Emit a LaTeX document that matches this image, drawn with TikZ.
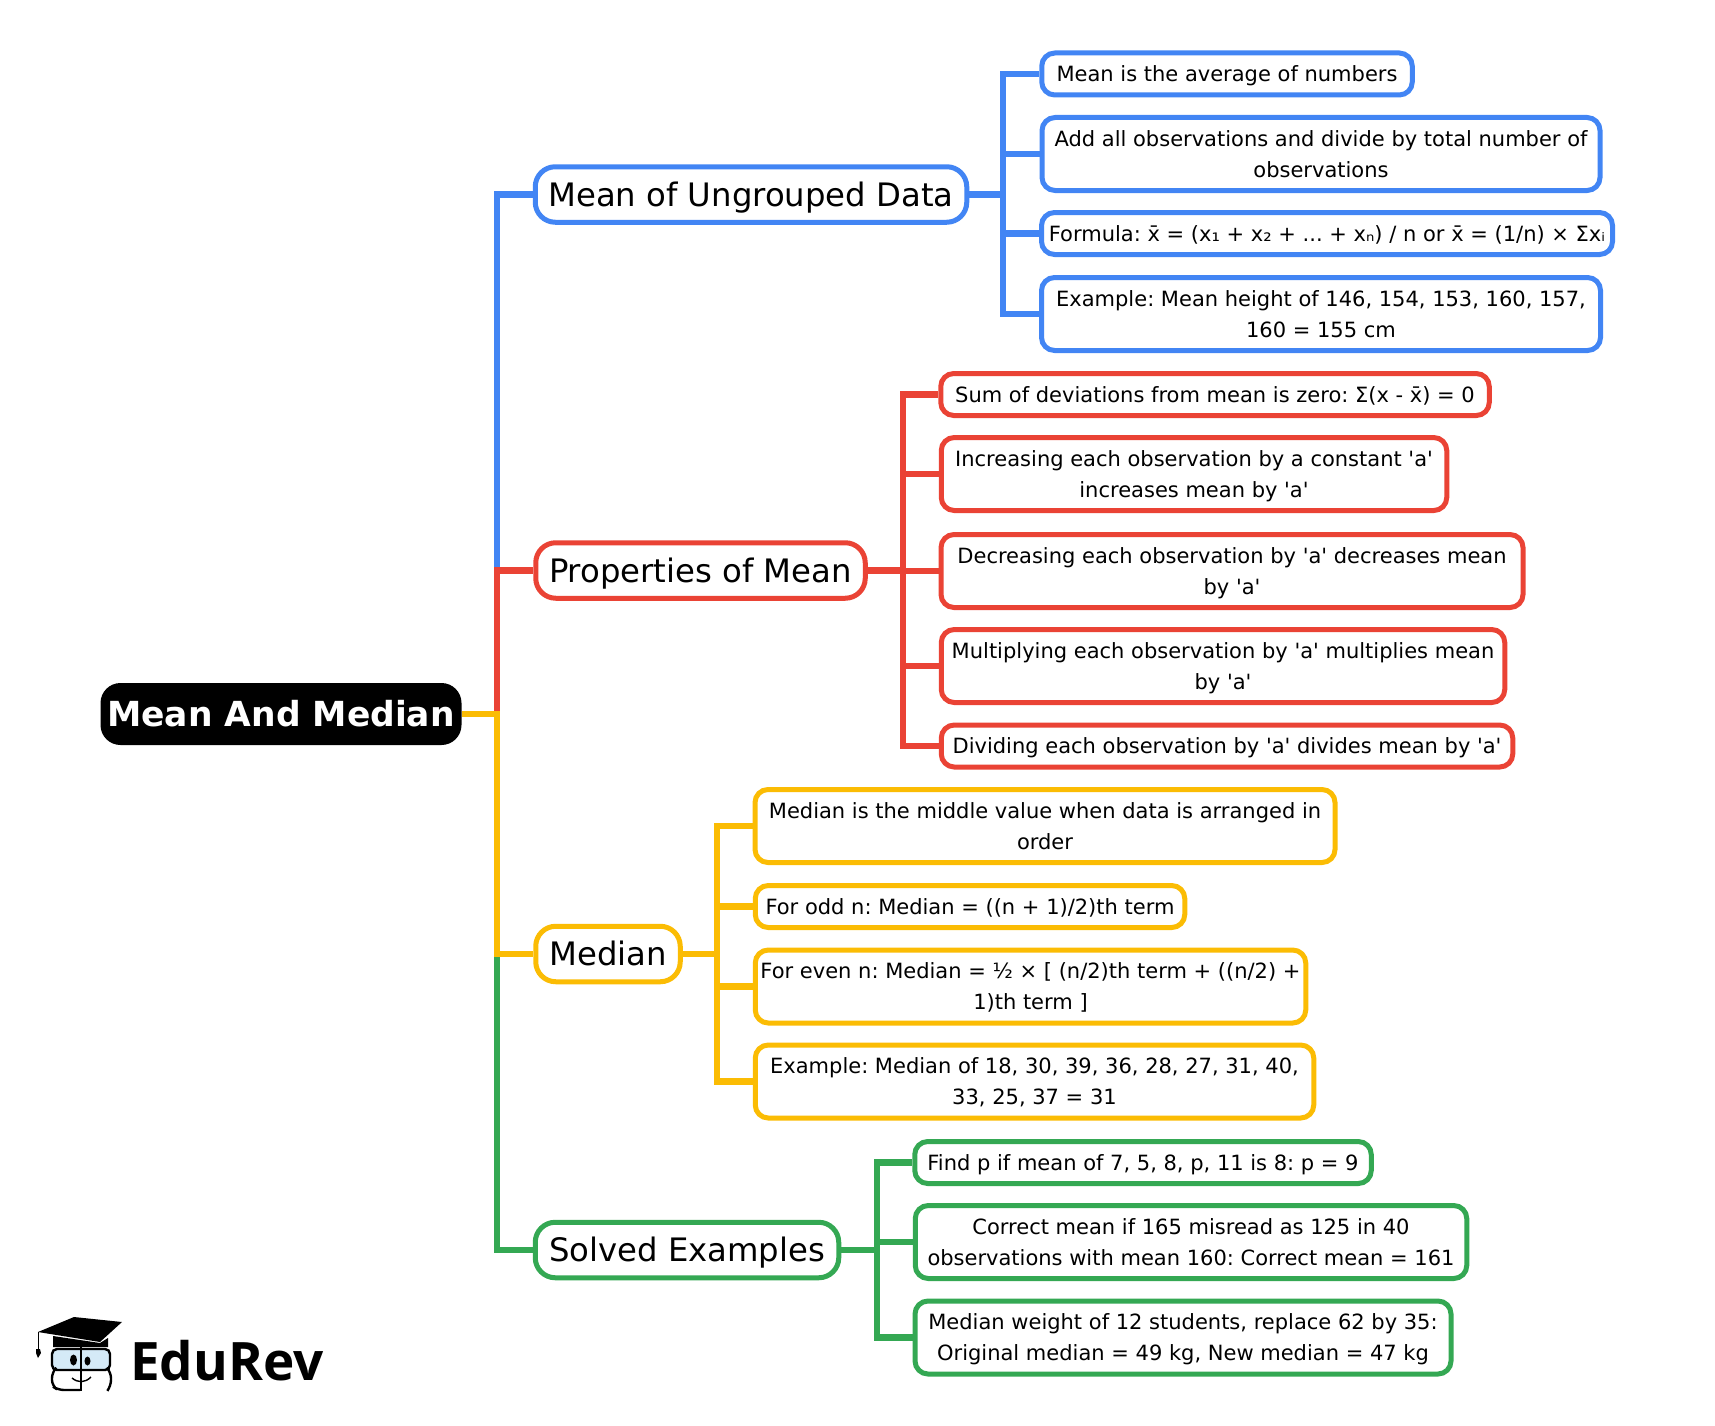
\documentclass[tikz,border=0pt]{standalone}
\usepackage{fontspec}
\setmainfont{DejaVu Sans}[Ligatures=TeXOff]
\newfontfamily\logofont{Open Sans}
\definecolor{mapblue}{HTML}{4285F4}
\definecolor{mapred}{HTML}{EA4335}
\definecolor{mapyellow}{HTML}{FBBC04}
\definecolor{mapgreen}{HTML}{34A853}
\definecolor{glasses}{HTML}{D5EAF7}
\begin{document}
\begin{tikzpicture} [x=1pt, y=-1pt, line join=miter,
leaf/.style={draw=#1, line width=5pt, rounded corners=13pt, fill=white, inner sep=0pt, align=center, xshift=1pt, yshift=-1pt, minimum height=42pt, text height=20pt, text depth=5pt, font=\fontsize{21}{31}\selectfont\frenchspacing},
leaf two/.style={leaf=#1, minimum height=73pt, text height=51pt, text depth=5pt},
branch/.style={draw=#1, line width=5pt, rounded corners=20pt, fill=white, inner sep=0pt, xshift=1pt, yshift=-1pt, minimum height=55.5pt, text height=31pt, text depth=8pt, font=\fontsize{32.3}{36}\selectfont},
root box/.style={fill=black, text=white, rounded corners=20pt, inner sep=0pt, yshift=-1pt, minimum width=361pt, minimum height=62pt, font=\fontsize{34.5}{40}\selectfont\bfseries},
link/.style={draw=#1, line width=6.2pt}]

\useasboundingbox (0,0) rectangle (1715,1426);

%coordinates of the vertical lines
\coordinate (S) at (497,714);
\coordinate (SB) at (1003,194.5);
\coordinate (SR) at (903,570.5);
\coordinate (SY) at (717,954);
\coordinate (SG) at (877,1250);

%draw root and main branches
\node[root box] (Root) at (281,713) {Mean And Median};
\node[branch=mapblue, minimum width=431.5pt] (Mean) at (750,193.5) {Mean of Ungrouped Data};
\node[branch=mapred, minimum width=329.5pt] (Prop) at (699.5,569.5) {Properties of Mean};
\node[branch=mapyellow, minimum width=144.5pt] (Med) at (607,953) {Median};
\node[branch=mapgreen, minimum width=303.5pt] (Solved) at (686,1249) {Solved Examples};

%draw blue leaves
\node[leaf=mapblue, minimum width=370.5pt] (B1) at (1226,73) {Mean is the average of numbers};
\node[leaf two=mapblue, minimum width=558pt] (B2) at (1320,153) {Add all observations and divide by total number of\\observations};
\node[leaf=mapblue, minimum width=571pt] (B3) at (1326,232.5) {Formula: x̄ = (x₁ + x₂ + ... + xₙ) / n or x̄ = (1/n) × Σxᵢ};
\node[leaf two=mapblue, minimum width=559pt] (B4) at (1320,313) {Example: Mean height of 146, 154, 153, 160, 157,\\160 = 155 cm};

%draw red leaves
\node[leaf=mapred, minimum width=548.5pt] (R1) at (1214,393.5) {Sum of deviations from mean is zero: Σ(x - x̄) = 0};
\node[leaf two=mapred, minimum width=505.5pt] (R2) at (1193,473) {Increasing each observation by a constant 'a'\\increases mean by 'a'};
\node[leaf two=mapred, minimum width=582pt] (R3) at (1231,570) {Decreasing each observation by 'a' decreases mean\\by 'a'};
\node[leaf two=mapred, minimum width=563.5pt] (R4) at (1222,665) {Multiplying each observation by 'a' multiplies mean\\by 'a'};
\node[leaf=mapred, minimum width=571.5pt] (R5) at (1226,745) {Dividing each observation by 'a' divides mean by 'a'};

%draw yellow leaves
\node[leaf two=mapyellow, minimum width=580pt] (Y1) at (1044,825) {Median is the middle value when data is arranged in\\order};
\node[leaf=mapyellow, minimum width=429.5pt] (Y2) at (969,905.5) {For odd n: Median = ((n + 1)/2)th term};
\node[leaf two=mapyellow, minimum width=550.5pt] (Y3) at (1029.5,985.5) {For even n: Median = ½ × [ (n/2)th term + ((n/2) +\\1)th term ]};
\node[leaf two=mapyellow, minimum width=558.5pt] (Y4) at (1033.5,1080.5) {Example: Median of 18, 30, 39, 36, 28, 27, 31, 40,\\33, 25, 37 = 31};

%draw green leaves
\node[leaf=mapgreen, minimum width=456.5pt] (G1) at (1142,1161.5) {Find p if mean of 7, 5, 8, p, 11 is 8: p = 9};
\node[leaf two=mapgreen, minimum width=551.5pt] (G2) at (1190,1241) {Correct mean if 165 misread as 125 in 40\\observations with mean 160: Correct mean = 161};
\node[leaf two=mapgreen, minimum width=536pt] (G3) at (1182,1336.5) {Median weight of 12 students, replace 62 by 35:\\Original median = 49 kg, New median = 47 kg};

%draw lines from root to branches
\draw[link=mapblue] (S) |- (Mean.west);
\draw[link=mapred] (S) |- (Prop.west);
\draw[link=mapgreen] (S) |- (Solved.west);
\draw[link=mapyellow] (Root.east) -- (S) |- (Med.west);

%draw lines from branches to leaves
\draw[link=mapblue] (Mean.east) -- (SB);
\foreach \leaf in {B1,B2,B3,B4} \draw[link=mapblue] (SB) |- (\leaf.west);
\draw[link=mapred] (Prop.east) -- (SR);
\foreach \leaf in {R1,R2,R3,R4,R5} \draw[link=mapred] (SR) |- (\leaf.west);
\draw[link=mapyellow] (Med.east) -- (SY);
\foreach \leaf in {Y1,Y2,Y3,Y4} \draw[link=mapyellow] (SY) |- (\leaf.west);
\draw[link=mapgreen] (Solved.east) -- (SG);
\foreach \leaf in {G1,G2,G3} \draw[link=mapgreen] (SG) |- (\leaf.west);

%draw logo
\fill (38,1332) -- (74,1317) -- (122,1322) -- (100,1342) -- cycle;
\fill (53,1336) -- (53,1347) -- (108,1347) -- (108,1338) -- (100,1343) -- cycle;
\draw[line width=1pt] (38,1332) -- (38,1350);
\fill (36,1349) -- (40,1349) -- (41,1353) -- (38,1358) -- (36,1353) -- cycle;
\draw[line width=2.4pt, fill=glasses, rounded corners=5pt] (52,1349) rectangle (110,1370);
\draw[line width=2.4pt, rounded corners=6pt] (54,1370) -- (52,1372) -- (52,1386) -- (58,1390) -- (80,1390);
\draw[line width=2.4pt, rounded corners=6pt] (109,1370) -- (111,1372) -- (111,1386) -- (108,1390);
\draw[line width=2.4pt] (81,1347) -- (81,1391);
\fill (73.5,1360) ellipse (3.5 and 5.5);
\fill (87.5,1361) ellipse (3 and 4.5);
\draw[line width=1.4pt] (72,1378) .. controls (78,1383) and (85,1383) .. (91,1377);
\node[font=\logofont\fontsize{53}{60}\selectfont\bfseries, inner sep=0pt, anchor=base west] (Logo) at (130,1380) {EduRev};
\end{tikzpicture}
\end{document}
